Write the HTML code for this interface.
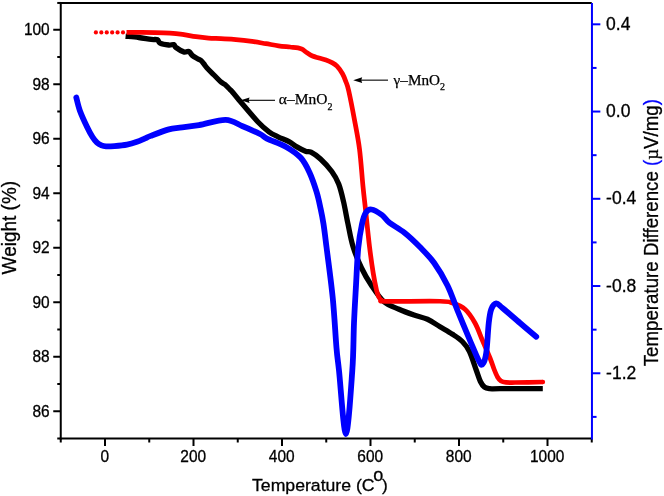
<!DOCTYPE html>
<html lang="en"><head><meta charset="utf-8"><title>TG-DTA of MnO2</title>
<style>html,body{margin:0;padding:0;background:#fff}svg{display:block}text{font-family:"Liberation Sans", sans-serif;fill:#000}.s{font-family:"Liberation Serif", serif}</style></head><body>
<svg width="664" height="496" viewBox="0 0 664 496">
<rect width="664" height="496" fill="#fff"/>
<g stroke="#000" stroke-width="2.00" fill="none" stroke-linecap="butt">
<path d="M60.75 1.95 V439.50"/>
<path d="M59.75 2.95 H591.75"/>
<path d="M59.75 438.50 H591.95"/>
</g>
<g stroke="#000" stroke-width="2" fill="none">
<path d="M60.75 438.50 H57.25"/>
<path d="M60.75 411.25 H53.25"/>
<path d="M60.75 384.00 H57.25"/>
<path d="M60.75 356.75 H53.25"/>
<path d="M60.75 329.50 H57.25"/>
<path d="M60.75 302.25 H53.25"/>
<path d="M60.75 275.00 H57.25"/>
<path d="M60.75 247.75 H53.25"/>
<path d="M60.75 220.50 H57.25"/>
<path d="M60.75 193.25 H53.25"/>
<path d="M60.75 166.00 H57.25"/>
<path d="M60.75 138.75 H53.25"/>
<path d="M60.75 111.50 H57.25"/>
<path d="M60.75 84.25 H53.25"/>
<path d="M60.75 57.00 H57.25"/>
<path d="M60.75 29.75 H53.25"/>
<path d="M60.75 2.95 H57.25"/>
<path d="M60.75 438.50 V442.50"/>
<path d="M105.00 438.50 V446.00"/>
<path d="M149.25 438.50 V442.50"/>
<path d="M193.50 438.50 V446.00"/>
<path d="M237.75 438.50 V442.50"/>
<path d="M282.00 438.50 V446.00"/>
<path d="M326.25 438.50 V442.50"/>
<path d="M370.50 438.50 V446.00"/>
<path d="M414.75 438.50 V442.50"/>
<path d="M459.00 438.50 V446.00"/>
<path d="M503.25 438.50 V442.50"/>
<path d="M547.50 438.50 V446.00"/>
<path d="M591.75 438.50 V442.50"/>
</g>
<g stroke="#0000ff" stroke-width="2" fill="none">
<path d="M591.95 2.95 V439.50"/>
<path d="M591.95 24.31 H600.35"/>
<path d="M591.95 67.93 H596.55"/>
<path d="M591.95 111.55 H600.35"/>
<path d="M591.95 155.17 H596.55"/>
<path d="M591.95 198.79 H600.35"/>
<path d="M591.95 242.41 H596.55"/>
<path d="M591.95 286.03 H600.35"/>
<path d="M591.95 329.65 H596.55"/>
<path d="M591.95 373.27 H600.35"/>
<path d="M591.95 416.89 H596.55"/>
</g>
<g font-size="16.2" stroke="#000" stroke-width="0.3">
<text x="49.70" y="416.75" text-anchor="end" textLength="17.20" lengthAdjust="spacingAndGlyphs">86</text>
<text x="49.70" y="362.25" text-anchor="end" textLength="17.20" lengthAdjust="spacingAndGlyphs">88</text>
<text x="49.70" y="307.75" text-anchor="end" textLength="17.20" lengthAdjust="spacingAndGlyphs">90</text>
<text x="49.70" y="253.25" text-anchor="end" textLength="17.20" lengthAdjust="spacingAndGlyphs">92</text>
<text x="49.70" y="198.75" text-anchor="end" textLength="17.20" lengthAdjust="spacingAndGlyphs">94</text>
<text x="49.70" y="144.25" text-anchor="end" textLength="17.20" lengthAdjust="spacingAndGlyphs">96</text>
<text x="49.70" y="89.75" text-anchor="end" textLength="17.20" lengthAdjust="spacingAndGlyphs">98</text>
<text x="49.70" y="35.25" text-anchor="end" textLength="25.81" lengthAdjust="spacingAndGlyphs">100</text>
<text x="104.70" y="461.80" text-anchor="middle" textLength="8.60" lengthAdjust="spacingAndGlyphs">0</text>
<text x="193.20" y="461.80" text-anchor="middle" textLength="25.81" lengthAdjust="spacingAndGlyphs">200</text>
<text x="281.70" y="461.80" text-anchor="middle" textLength="25.81" lengthAdjust="spacingAndGlyphs">400</text>
<text x="370.20" y="461.80" text-anchor="middle" textLength="25.81" lengthAdjust="spacingAndGlyphs">600</text>
<text x="458.70" y="461.80" text-anchor="middle" textLength="25.81" lengthAdjust="spacingAndGlyphs">800</text>
<text x="547.20" y="461.80" text-anchor="middle" textLength="34.41" lengthAdjust="spacingAndGlyphs">1000</text>
</g>
<g font-size="17.5" stroke="#000" stroke-width="0.3">
<text x="606.10" y="29.81">0.4</text>
<text x="606.10" y="117.05">0.0</text>
<text x="606.10" y="204.29">-0.4</text>
<text x="606.10" y="291.53">-0.8</text>
<text x="606.10" y="378.77">-1.2</text>
</g>
<g font-size="17.2" stroke="#000" stroke-width="0.3">
<text x="252" y="490.6" textLength="122.6" lengthAdjust="spacingAndGlyphs">Temperature (C</text>
<text x="373.2" y="480.9" font-size="18">o</text>
<text x="381.9" y="490.6">)</text>
</g>
<text transform="translate(15.8 274.4) rotate(-90)" font-size="19.4" textLength="93.5" lengthAdjust="spacingAndGlyphs" stroke="#000" stroke-width="0.3">Weight (%)</text>
<text transform="translate(658.2 366.3) rotate(-90)" font-size="19.6" textLength="267.3" lengthAdjust="spacingAndGlyphs" stroke="#000" stroke-width="0.3">Temperature Difference <tspan fill="#0000ff" stroke="#0000ff">(</tspan><tspan class="s">µ</tspan>V/mg<tspan fill="#0000ff" stroke="#0000ff">)</tspan></text>
<g fill="none" stroke-linejoin="round" stroke-linecap="butt">
<path stroke="#000" stroke-width="5.3" d="M125.60 36.25C127.79 36.46 134.47 36.98 138.75 37.50C143.03 38.02 148.12 39.02 151.25 39.40C154.38 39.78 156.04 39.18 157.50 39.80C158.96 40.42 158.12 42.23 160.00 43.10C161.88 43.97 166.46 44.75 168.75 45.00C171.04 45.25 172.54 44.18 173.75 44.60C174.96 45.02 174.33 46.28 176.00 47.50C177.67 48.72 181.62 51.23 183.75 51.90C185.88 52.57 187.29 50.88 188.75 51.50C190.21 52.12 191.04 54.39 192.50 55.60C193.96 56.81 196.08 57.93 197.50 58.75C198.92 59.57 199.92 59.62 201.00 60.50C202.08 61.38 203.00 62.75 204.00 64.00C205.00 65.25 205.33 66.17 207.00 68.00C208.67 69.83 211.67 72.67 214.00 75.00C216.33 77.33 219.17 80.42 221.00 82.00C222.83 83.58 223.67 83.42 225.00 84.50C226.33 85.58 227.83 87.33 229.00 88.50C230.17 89.67 230.33 89.58 232.00 91.50C233.67 93.42 234.67 94.92 239.00 100.00C243.33 105.08 253.00 116.70 258.00 122.00C263.00 127.30 265.67 129.33 269.00 131.80C272.33 134.27 274.67 135.17 278.00 136.80C281.33 138.43 285.93 139.97 289.00 141.60C292.07 143.23 293.65 145.00 296.40 146.60C299.15 148.20 303.07 150.27 305.50 151.20C307.93 152.13 308.50 150.90 311.00 152.20C313.50 153.50 317.03 155.78 320.50 159.00C323.97 162.22 328.77 167.33 331.80 171.50C334.83 175.67 336.75 179.00 338.70 184.00C340.65 189.00 341.95 194.83 343.50 201.50C345.05 208.17 346.42 216.50 348.00 224.00C349.58 231.50 350.75 239.17 353.00 246.50C355.25 253.83 358.42 261.50 361.50 268.00C364.58 274.50 367.75 279.88 371.50 285.50C375.25 291.12 379.42 297.79 384.00 301.75C388.58 305.71 394.00 307.04 399.00 309.25C404.00 311.46 409.25 313.33 414.00 315.00C418.75 316.67 423.17 317.29 427.50 319.25C431.83 321.21 435.83 324.25 440.00 326.75C444.17 329.25 448.75 331.75 452.50 334.25C456.25 336.75 459.67 338.88 462.50 341.75C465.33 344.62 467.22 346.79 469.50 351.50C471.78 356.21 474.38 365.00 476.20 370.00C478.02 375.00 479.02 378.63 480.40 381.50C481.78 384.37 482.98 386.00 484.50 387.20C486.02 388.40 486.92 388.45 489.50 388.70C492.08 388.95 491.12 388.72 500.00 388.70C508.88 388.68 535.67 388.62 542.80 388.60"/>
<path stroke="#ff0000" stroke-width="4.75" d="M126.50 32.40C131.25 32.43 147.75 32.48 155.00 32.60C162.25 32.72 165.42 32.80 170.00 33.10C174.58 33.40 178.17 33.80 182.50 34.40C186.83 35.00 191.67 36.08 196.00 36.70C200.33 37.32 204.33 37.77 208.50 38.10C212.67 38.43 216.42 38.45 221.00 38.70C225.58 38.95 230.83 39.15 236.00 39.60C241.17 40.05 247.00 40.72 252.00 41.40C257.00 42.08 261.58 42.97 266.00 43.70C270.42 44.43 274.50 45.25 278.50 45.80C282.50 46.35 286.75 46.65 290.00 47.00C293.25 47.35 296.00 47.53 298.00 47.90C300.00 48.27 300.50 48.40 302.00 49.20C303.50 50.00 305.25 51.57 307.00 52.70C308.75 53.83 310.50 55.12 312.50 56.00C314.50 56.88 316.75 57.33 319.00 58.00C321.25 58.67 323.83 59.23 326.00 60.00C328.17 60.77 330.17 61.57 332.00 62.60C333.83 63.63 335.25 64.34 337.00 66.20C338.75 68.06 341.00 71.12 342.50 73.75C344.00 76.38 344.96 79.12 346.00 82.00C347.04 84.88 347.33 84.67 348.75 91.00C350.17 97.33 352.71 110.33 354.50 120.00C356.29 129.67 358.08 137.92 359.50 149.00C360.92 160.08 361.96 176.08 363.00 186.50C364.04 196.92 364.67 201.50 365.75 211.50C366.83 221.50 368.26 236.25 369.50 246.50C370.74 256.75 372.02 265.67 373.20 273.00C374.38 280.33 375.67 286.50 376.60 290.50C377.53 294.50 377.98 295.38 378.80 297.00C379.62 298.62 380.30 299.48 381.50 300.20C382.70 300.92 376.25 301.12 386.00 301.30C395.75 301.48 428.92 300.97 440.00 301.25C451.08 301.53 448.33 301.67 452.50 303.00C456.67 304.33 461.25 305.92 465.00 309.25C468.75 312.58 472.08 317.79 475.00 323.00C477.92 328.21 480.00 334.67 482.50 340.50C485.00 346.33 488.08 353.25 490.00 358.00C491.92 362.75 492.75 365.83 494.00 369.00C495.25 372.17 496.33 375.00 497.50 377.00C498.67 379.00 499.58 380.10 501.00 381.00C502.42 381.90 503.67 382.15 506.00 382.40C508.33 382.65 508.87 382.57 515.00 382.50C521.13 382.43 538.17 382.08 542.80 382.00"/>
</g>
<g fill="#ff0000">
<circle cx="542.8" cy="382" r="2.35"/>
<circle cx="95.90" cy="32.45" r="2.1"/>
<circle cx="101.32" cy="32.45" r="2.1"/>
<circle cx="106.74" cy="32.45" r="2.1"/>
<circle cx="112.16" cy="32.45" r="2.1"/>
<circle cx="117.58" cy="32.45" r="2.1"/>
<circle cx="123.00" cy="32.45" r="2.1"/>
</g>
<path fill="none" stroke-linejoin="round" stroke-linecap="round" stroke="#0000ff" stroke-width="5.8" d="M76.30 97.50C76.92 99.73 78.18 105.95 80.00 110.90C81.82 115.85 85.12 122.85 87.20 127.20C89.28 131.55 90.87 134.43 92.50 137.00C94.13 139.57 95.50 141.20 97.00 142.60C98.50 144.00 100.00 144.77 101.50 145.40C103.00 146.03 103.85 146.28 106.00 146.40C108.15 146.52 110.90 146.40 114.40 146.10C117.90 145.80 123.23 145.32 127.00 144.60C130.77 143.88 134.00 142.83 137.00 141.80C140.00 140.77 142.72 139.38 145.00 138.40C147.28 137.42 146.72 137.40 150.70 135.90C154.68 134.40 164.05 130.78 168.90 129.40C173.75 128.02 174.78 128.32 179.80 127.60C184.82 126.88 191.35 126.40 199.00 125.10C206.65 123.80 218.43 119.60 225.70 119.80C232.97 120.00 236.88 123.93 242.60 126.30C248.32 128.67 255.95 131.95 260.00 134.00C264.05 136.05 262.53 136.45 266.90 138.60C271.27 140.75 280.55 143.70 286.20 146.90C291.85 150.10 296.93 153.57 300.80 157.80C304.67 162.03 306.78 166.65 309.40 172.30C312.02 177.95 314.63 185.65 316.50 191.70C318.37 197.75 319.43 203.22 320.60 208.60C321.77 213.98 322.52 217.60 323.50 224.00C324.48 230.40 324.96 234.67 326.50 247.00C328.04 259.33 331.08 281.17 332.75 298.00C334.42 314.83 335.46 335.92 336.50 348.00C337.54 360.08 337.43 356.17 339.00 370.50C340.57 384.83 343.68 434.00 345.90 434.00C348.12 434.00 350.95 389.00 352.30 370.50C353.65 352.00 353.38 337.17 354.00 323.00C354.62 308.83 355.29 298.00 356.00 285.50C356.71 273.00 357.25 258.25 358.25 248.00C359.25 237.75 360.75 229.88 362.00 224.00C363.25 218.12 364.17 215.17 365.75 212.75C367.33 210.33 368.79 209.12 371.50 209.50C374.21 209.88 379.00 212.79 382.00 215.00C385.00 217.21 385.75 219.79 389.50 222.75C393.25 225.71 399.38 228.66 404.50 232.75C409.62 236.84 415.25 242.26 420.20 247.30C425.15 252.34 429.65 256.63 434.20 263.00C438.75 269.37 443.62 277.58 447.50 285.50C451.38 293.42 453.75 301.33 457.50 310.50C461.25 319.67 466.46 332.17 470.00 340.50C473.54 348.83 476.67 356.54 478.75 360.50C480.83 364.46 481.25 365.50 482.50 364.25C483.75 363.00 485.21 359.88 486.25 353.00C487.29 346.12 487.92 330.29 488.75 323.00C489.58 315.71 490.00 312.50 491.25 309.25C492.50 306.00 494.38 303.71 496.25 303.50C498.12 303.29 498.54 304.75 502.50 308.00C506.46 311.25 514.38 318.21 520.00 323.00C525.62 327.79 533.54 334.46 536.25 336.75"/>
<path d="M245.60 100.30 H275.00" stroke="#000" stroke-width="1.1" fill="none"/>
<path d="M240.60 100.30 L249.60 97.50 L248.60 100.30 L249.60 103.10 Z" fill="#000"/>
<path d="M358.20 80.15 H388.00" stroke="#000" stroke-width="1.1" fill="none"/>
<path d="M353.20 80.15 L362.20 77.35 L361.20 80.15 L362.20 82.95 Z" fill="#000"/>
<g class="s" stroke="#000" stroke-width="0.25">
<text class="s" x="278.8" y="104" font-size="15.5">α–MnO<tspan dy="5.8" font-size="10">2</tspan></text>
<text class="s" x="393.6" y="84.5" font-size="15.2">γ–MnO<tspan dy="5.8" font-size="10">2</tspan></text>
</g>
</svg></body></html>
